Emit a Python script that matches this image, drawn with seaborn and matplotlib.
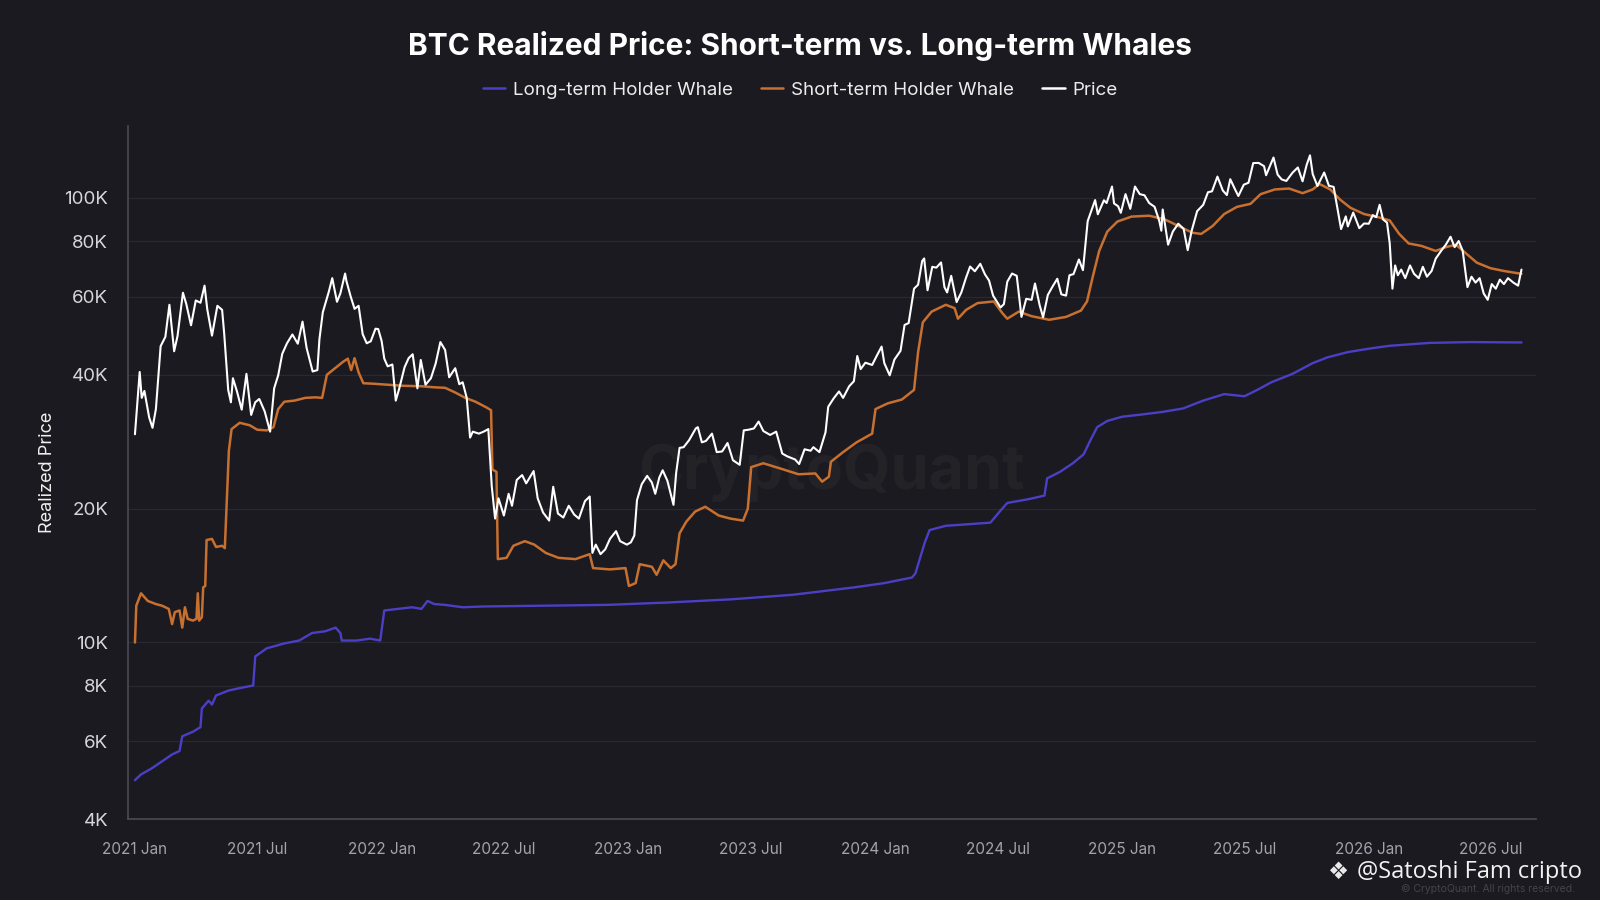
import pandas as pd
import numpy as np
import matplotlib
matplotlib.use("Agg")
import matplotlib.pyplot as plt
import matplotlib.dates as mdates
from matplotlib.ticker import FixedLocator, NullLocator
from matplotlib.lines import Line2D
import seaborn as sns

# ---- data (USD) ----
price_dates = [
    "2021-01-01", "2021-01-08", "2021-01-11", "2021-01-15", "2021-01-22", "2021-01-27", "2021-02-01", "2021-02-08",
    "2021-02-15", "2021-02-21", "2021-02-28", "2021-03-05", "2021-03-13", "2021-03-18", "2021-03-25", "2021-04-01",
    "2021-04-08", "2021-04-14", "2021-04-18", "2021-04-25", "2021-05-03", "2021-05-10", "2021-05-13", "2021-05-19",
    "2021-05-23", "2021-05-26", "2021-06-01", "2021-06-08", "2021-06-15", "2021-06-22", "2021-06-28", "2021-07-04",
    "2021-07-12", "2021-07-20", "2021-07-26", "2021-08-01", "2021-08-07", "2021-08-14", "2021-08-22", "2021-08-30",
    "2021-09-06", "2021-09-12", "2021-09-21", "2021-09-28", "2021-10-01", "2021-10-06", "2021-10-15", "2021-10-20",
    "2021-10-27", "2021-11-01", "2021-11-08", "2021-11-10", "2021-11-16", "2021-11-22", "2021-11-28", "2021-12-04",
    "2021-12-10", "2021-12-16", "2021-12-23", "2021-12-27",
    "2022-01-01", "2022-01-05", "2022-01-10", "2022-01-17", "2022-01-22", "2022-01-27", "2022-02-04", "2022-02-10",
    "2022-02-16", "2022-02-23", "2022-02-28", "2022-03-07", "2022-03-15", "2022-03-22", "2022-03-29", "2022-04-05",
    "2022-04-11", "2022-04-20", "2022-04-26", "2022-05-01", "2022-05-07", "2022-05-12", "2022-05-16", "2022-05-25",
    "2022-06-01", "2022-06-08", "2022-06-13", "2022-06-18", "2022-06-23", "2022-07-01", "2022-07-08", "2022-07-13",
    "2022-07-20", "2022-07-28", "2022-08-03", "2022-08-14", "2022-08-20", "2022-08-28", "2022-09-06", "2022-09-12",
    "2022-09-19", "2022-09-27", "2022-10-05", "2022-10-13", "2022-10-20", "2022-10-29", "2022-11-05", "2022-11-09",
    "2022-11-14", "2022-11-21", "2022-11-28", "2022-12-05", "2022-12-14", "2022-12-20", "2022-12-30",
    "2023-01-05", "2023-01-10", "2023-01-14", "2023-01-21", "2023-01-29", "2023-02-05", "2023-02-10", "2023-02-16",
    "2023-02-21", "2023-02-28", "2023-03-09", "2023-03-13", "2023-03-18", "2023-03-24", "2023-04-01", "2023-04-11",
    "2023-04-14", "2023-04-20", "2023-04-26", "2023-05-05", "2023-05-12", "2023-05-20", "2023-05-28", "2023-06-05",
    "2023-06-15", "2023-06-21", "2023-06-28", "2023-07-06", "2023-07-13", "2023-07-20", "2023-07-30", "2023-08-08",
    "2023-08-17", "2023-08-25", "2023-09-05", "2023-09-11", "2023-09-19", "2023-09-28", "2023-10-02", "2023-10-11",
    "2023-10-20", "2023-10-24", "2023-11-01", "2023-11-09", "2023-11-15", "2023-11-24", "2023-12-01", "2023-12-06",
    "2023-12-11", "2023-12-18", "2023-12-28",
    "2024-01-04", "2024-01-11", "2024-01-15", "2024-01-23", "2024-01-30", "2024-02-08", "2024-02-14", "2024-02-20",
    "2024-02-28", "2024-03-05", "2024-03-11", "2024-03-14", "2024-03-19", "2024-03-26", "2024-04-01", "2024-04-08",
    "2024-04-13", "2024-04-17", "2024-04-23", "2024-05-01", "2024-05-08", "2024-05-15", "2024-05-21", "2024-05-28",
    "2024-06-05", "2024-06-12", "2024-06-18", "2024-06-24", "2024-07-05", "2024-07-10", "2024-07-15", "2024-07-22",
    "2024-07-29", "2024-08-05", "2024-08-12", "2024-08-20", "2024-08-25", "2024-09-01", "2024-09-06", "2024-09-13",
    "2024-09-20", "2024-09-27", "2024-10-03", "2024-10-10", "2024-10-15", "2024-10-21", "2024-10-29", "2024-11-04",
    "2024-11-11", "2024-11-13", "2024-11-22", "2024-11-26", "2024-12-05", "2024-12-09", "2024-12-17", "2024-12-20",
    "2024-12-26", "2024-12-30",
    "2025-01-06", "2025-01-13", "2025-01-20", "2025-01-27", "2025-02-03", "2025-02-10", "2025-02-18", "2025-02-25",
    "2025-02-28", "2025-03-02", "2025-03-10", "2025-03-17", "2025-03-25", "2025-04-02", "2025-04-08", "2025-04-14",
    "2025-04-22", "2025-05-01", "2025-05-08", "2025-05-14", "2025-05-22", "2025-05-30", "2025-06-05", "2025-06-10",
    "2025-06-17", "2025-06-22", "2025-06-30", "2025-07-07", "2025-07-14", "2025-07-22", "2025-07-30", "2025-08-02",
    "2025-08-13", "2025-08-19", "2025-08-25", "2025-09-01", "2025-09-10", "2025-09-18", "2025-09-25", "2025-10-01",
    "2025-10-06", "2025-10-10", "2025-10-17", "2025-10-27", "2025-11-03", "2025-11-10", "2025-11-17", "2025-11-21",
    "2025-11-28", "2025-12-01", "2025-12-09", "2025-12-18", "2025-12-25",
    "2026-01-01", "2026-01-07", "2026-01-12", "2026-01-17", "2026-01-22", "2026-01-28", "2026-02-01", "2026-02-05",
    "2026-02-09", "2026-02-13", "2026-02-18", "2026-02-24", "2026-03-03", "2026-03-09", "2026-03-16", "2026-03-22",
    "2026-03-28", "2026-04-04", "2026-04-10", "2026-04-18", "2026-04-25", "2026-05-02", "2026-05-08", "2026-05-14",
    "2026-05-20", "2026-05-27", "2026-06-02", "2026-06-08", "2026-06-14", "2026-06-20", "2026-06-26", "2026-07-02",
    "2026-07-08", "2026-07-14", "2026-07-20", "2026-07-26", "2026-08-03", "2026-08-10", "2026-08-15",
]
price_values = [
    29400, 40600, 35500, 36800, 32100, 30400, 33500, 46400,
    48700, 57500, 45200, 48900, 61200, 57700, 51700, 58800,
    58100, 63500, 56200, 49000, 57200, 56000, 49700, 37000,
    34700, 39300, 36700, 33400, 40200, 32500, 34700, 35300,
    33100, 29800, 37300, 39900, 44600, 47100, 49300, 47000,
    52700, 46000, 40700, 41000, 48100, 55300, 61600, 66000,
    58400, 61000, 67600, 65000, 60200, 56300, 57200, 49400,
    47100, 47600, 50800, 50700,
    47700, 43500, 41800, 42200, 35000, 37200, 41600, 43600,
    44500, 37300, 43200, 38000, 39300, 42400, 47400, 45500,
    39500, 41400, 38100, 38500, 35500, 28900, 29800, 29500,
    29800, 30200, 22500, 19000, 21100, 19300, 21600, 20300,
    23200, 23800, 22800, 24300, 21100, 19600, 18800, 22400,
    19500, 19100, 20300, 19400, 19000, 20800, 21300, 15900,
    16600, 15800, 16200, 17100, 17800, 16900, 16600,
    16800, 17400, 20900, 22700, 23700, 22900, 21600, 23500,
    24400, 23100, 20400, 24100, 27400, 27500, 28500, 30300,
    30500, 28200, 28400, 29500, 26800, 26900, 28100, 25700,
    25100, 30000, 30100, 30300, 31400, 29900, 29300, 29800,
    26600, 26200, 25800, 25200, 27200, 27000, 27500, 26800,
    29700, 33900, 35400, 36700, 35500, 37700, 38700, 44100,
    41200, 42600, 42100,
    44200, 46300, 42500, 39900, 43300, 45300, 51800, 52300,
    62500, 63800, 72100, 73100, 62000, 70000, 69700, 71600,
    63000, 61300, 66800, 58300, 61300, 66200, 70100, 68400,
    71100, 67300, 65200, 60300, 56700, 57700, 64800, 67600,
    66800, 54000, 59300, 59000, 64200, 57300, 53900, 60500,
    63200, 65800, 60700, 60300, 67000, 67400, 72700, 68800,
    88700, 90500, 98900, 91900, 98800, 97400, 106100, 97200,
    95800, 92600,
    102000, 94500, 106100, 102000, 101400, 97400, 95500, 88700,
    84400, 94200, 78500, 84000, 87500, 85200, 76300, 84500,
    93400, 96500, 103000, 103500, 111700, 103900, 101500, 110200,
    104600, 101000, 107100, 108200, 119800, 119900, 117900, 112500,
    123300, 112900, 110100, 109200, 113900, 117100, 109000, 118600,
    124700, 113200, 106400, 114100, 106500, 105900, 92100, 85100,
    90900, 86300, 92700, 85500, 87600,
    87500, 91500, 90500, 96500, 89500, 88000, 79000, 62500,
    70500, 67000, 69000, 66000, 70500, 67500, 66000, 70000,
    66500, 68500, 73000, 76000, 78500, 81800, 77500, 80000,
    76000, 63000, 66500, 64500, 66000, 61000, 59000, 64000,
    62500, 65500, 64000, 66000, 64500, 63500, 69000,
]

sth_dates = [
    "2021-01-01", "2021-01-03", "2021-01-10", "2021-01-20", "2021-02-01", "2021-02-10", "2021-02-20", "2021-02-25",
    "2021-03-01", "2021-03-08", "2021-03-12", "2021-03-16", "2021-03-20", "2021-03-28", "2021-04-02", "2021-04-04",
    "2021-04-06", "2021-04-10", "2021-04-12", "2021-04-15", "2021-04-17", "2021-04-25", "2021-05-01", "2021-05-10",
    "2021-05-14", "2021-05-17", "2021-05-20", "2021-05-24", "2021-06-05", "2021-06-20", "2021-07-01", "2021-07-15",
    "2021-07-25", "2021-08-01", "2021-08-10", "2021-08-25", "2021-09-10", "2021-09-25", "2021-10-05", "2021-10-12",
    "2021-10-25", "2021-11-05", "2021-11-12", "2021-11-17", "2021-11-22", "2021-11-28", "2021-12-05", "2021-12-20",
    "2022-01-10", "2022-02-01", "2022-03-01", "2022-03-20", "2022-04-05", "2022-04-20", "2022-05-05", "2022-05-20",
    "2022-06-05", "2022-06-12", "2022-06-14", "2022-06-20", "2022-06-22", "2022-07-05", "2022-07-15", "2022-08-01",
    "2022-08-15", "2022-09-01", "2022-09-20", "2022-10-15", "2022-11-05", "2022-11-10", "2022-12-05", "2022-12-28",
    "2023-01-02", "2023-01-12", "2023-01-18", "2023-02-05", "2023-02-12", "2023-02-22", "2023-03-05", "2023-03-12",
    "2023-03-18", "2023-03-28", "2023-04-10", "2023-04-25", "2023-05-15", "2023-06-01", "2023-06-20", "2023-06-27",
    "2023-07-02", "2023-07-20", "2023-08-15", "2023-09-10", "2023-10-05", "2023-10-15", "2023-10-25", "2023-10-28",
    "2023-11-15", "2023-12-05", "2023-12-28",
    "2024-01-02", "2024-01-20", "2024-02-10", "2024-02-28", "2024-03-05", "2024-03-12", "2024-03-25", "2024-04-15",
    "2024-04-28", "2024-05-03", "2024-05-15", "2024-06-01", "2024-06-25", "2024-07-08", "2024-07-15", "2024-08-01",
    "2024-08-20", "2024-09-15", "2024-10-10", "2024-11-01", "2024-11-10", "2024-11-18", "2024-11-28", "2024-12-10",
    "2024-12-25",
    "2025-01-15", "2025-02-10", "2025-03-05", "2025-03-25", "2025-04-15", "2025-04-28", "2025-05-15", "2025-06-01",
    "2025-06-20", "2025-07-10", "2025-07-25", "2025-08-15", "2025-09-05", "2025-09-25", "2025-10-10", "2025-10-20",
    "2025-11-05", "2025-11-20", "2025-12-05", "2025-12-25",
    "2026-01-15", "2026-02-01", "2026-02-15", "2026-03-01", "2026-03-20", "2026-04-10", "2026-04-25", "2026-05-10",
    "2026-05-25", "2026-06-10", "2026-06-30", "2026-07-20", "2026-08-15",
]
sth_values = [
    10000, 12100, 12900, 12400, 12200, 12100, 11900, 11000,
    11700, 11800, 10800, 12000, 11300, 11200, 11300, 12900,
    11200, 11400, 13300, 13400, 17000, 17100, 16400, 16500,
    16300, 21000, 27000, 30200, 31200, 30800, 30100, 30000,
    30500, 33500, 34800, 35000, 35500, 35600, 35500, 40000,
    41500, 42800, 43500, 41000, 43600, 40500, 38300, 38200,
    38000, 37800, 37700, 37500, 37400, 36500, 35500, 34800,
    33800, 33300, 24500, 24200, 15400, 15500, 16500, 16900,
    16600, 15900, 15500, 15400, 15800, 14700, 14600, 14700,
    13400, 13600, 15000, 14800, 14200, 15300, 14700, 15000,
    17600, 18700, 19700, 20200, 19300, 19000, 18800, 20000,
    24800, 25300, 24600, 23900, 24000, 23000, 23600, 25500,
    26800, 28200, 29500,
    33500, 34500, 35200, 37000, 45000, 52500, 55500, 57500,
    56500, 53500, 56000, 58000, 58500, 55000, 53500, 55500,
    54200, 53200, 54000, 55800, 58500, 66000, 76000, 84000,
    88500,
    90800, 91200, 89500, 86500, 83500, 83000, 86500, 92000,
    95500, 97000, 102000, 104500, 105000, 102500, 104500, 107500,
    104500, 99000, 95000, 92000,
    90500, 89000, 83000, 79000, 78000, 76000, 77500, 78500,
    75000, 71500, 69500, 68500, 67500,
]

lth_dates = [
    "2021-01-01", "2021-01-10", "2021-01-25", "2021-02-10", "2021-02-25", "2021-03-08", "2021-03-12", "2021-03-28",
    "2021-04-08", "2021-04-10", "2021-04-20", "2021-04-25", "2021-05-01", "2021-05-20", "2021-06-15", "2021-06-25",
    "2021-06-28", "2021-07-15", "2021-08-10", "2021-09-01", "2021-09-20", "2021-10-10", "2021-10-25", "2021-11-01",
    "2021-11-03", "2021-11-25", "2021-12-15", "2021-12-30",
    "2022-01-05", "2022-01-25", "2022-02-15", "2022-03-01", "2022-03-10", "2022-03-20", "2022-04-05", "2022-05-01",
    "2022-06-01", "2022-09-01", "2022-12-01",
    "2023-03-01", "2023-06-01", "2023-09-01", "2023-12-01",
    "2024-01-15", "2024-02-25", "2024-03-01", "2024-03-08", "2024-03-15", "2024-03-22", "2024-04-15", "2024-06-20",
    "2024-07-05", "2024-07-15", "2024-08-15", "2024-09-08", "2024-09-12", "2024-10-01", "2024-10-20", "2024-11-05",
    "2024-11-15", "2024-11-25", "2024-12-10",
    "2025-01-01", "2025-02-01", "2025-03-01", "2025-04-01", "2025-05-01", "2025-06-01", "2025-07-01", "2025-07-20",
    "2025-08-10", "2025-09-10", "2025-10-10", "2025-11-01", "2025-12-01",
    "2026-01-01", "2026-02-01", "2026-04-01", "2026-06-01", "2026-08-15",
]
lth_values = [
    4900, 5050, 5200, 5400, 5600, 5700, 6150, 6300,
    6450, 7100, 7400, 7250, 7600, 7800, 7950, 8000,
    9300, 9700, 9950, 10100, 10500, 10600, 10800, 10500,
    10100, 10100, 10200, 10100,
    11800, 11900, 12000, 11900, 12400, 12200, 12150, 12000,
    12050, 12100, 12150,
    12300, 12500, 12800, 13300,
    13600, 14000, 14300, 15500, 16800, 17900, 18300, 18600,
    19800, 20600, 21000, 21400, 23400, 24200, 25300, 26500,
    28500, 30500, 31500,
    32200, 32600, 33000, 33600, 35000, 36200, 35800, 37000,
    38500, 40200, 42500, 43800, 45000,
    45800, 46500, 47200, 47400, 47300,
]

series_names = ["Long-term Holder Whale", "Short-term Holder Whale", "Price"]
y_ticks = [4000, 6000, 8000, 10000, 20000, 40000, 60000, 80000, 100000]
y_tick_labels = ["4K", "6K", "8K", "10K", "20K", "40K", "60K", "80K", "100K"]
x_ticks = ["2021-01-01", "2021-07-01", "2022-01-01", "2022-07-01", "2023-01-01", "2023-07-01",
           "2024-01-01", "2024-07-01", "2025-01-01", "2025-07-01", "2026-01-01", "2026-07-01"]

# ---- style ----
BG = "#1b1a20"
PURPLE = "#4b3fc6"
ORANGE = "#c8702f"
WHITE = "#ffffff"
GRID = "#2a2931"
AXIS = "#4c4b54"

sns.set_theme(style="dark")
plt.rcParams["font.family"] = ["Inter", "DejaVu Sans"]

fig = plt.figure(figsize=(16, 9), dpi=100, facecolor=BG)
ax = fig.add_axes([0.0797, 0.0896, 0.8801, 0.7709])
ax.set_facecolor(BG)

lth = pd.DataFrame({"date": pd.to_datetime(lth_dates), "value": lth_values})
sth = pd.DataFrame({"date": pd.to_datetime(sth_dates), "value": sth_values})
price = pd.DataFrame({"date": pd.to_datetime(price_dates), "value": price_values})

sns.lineplot(data=lth, x="date", y="value", ax=ax, color=PURPLE, linewidth=1.7, zorder=3)
sns.lineplot(data=sth, x="date", y="value", ax=ax, color=ORANGE, linewidth=1.8, zorder=4)
sns.lineplot(data=price, x="date", y="value", ax=ax, color=WHITE, linewidth=1.5, zorder=5)

ax.set_yscale("log")
ax.set_ylim(4000, 145500)
ax.set_xlim(pd.Timestamp("2020-12-21"), pd.Timestamp("2026-09-05"))

ax.yaxis.set_major_locator(FixedLocator(y_ticks))
ax.yaxis.set_minor_locator(NullLocator())
ax.set_yticklabels(y_tick_labels)
ax.set_xticks(pd.to_datetime(x_ticks))
ax.xaxis.set_major_formatter(mdates.DateFormatter("%Y %b"))

ax.grid(axis="y", color=GRID, linewidth=0.9)
ax.grid(axis="x", visible=False)
ax.tick_params(axis="y", length=0, pad=14, labelsize=13.5, labelcolor="#d6d6da")
ax.tick_params(axis="x", length=6, width=1, color=AXIS, direction="out", pad=10,
               labelsize=11, labelcolor="#a3a3ab")

for side in ["top", "right"]:
    ax.spines[side].set_visible(False)
for side in ["left", "bottom"]:
    ax.spines[side].set_visible(True)
    ax.spines[side].set_color(AXIS)
    ax.spines[side].set_linewidth(1.2)

ax.set_xlabel("")
ax.set_ylabel("Realized Price", color="#f0f0f0", fontsize=13, labelpad=6)

# faint watermark
ax.text(0.50, 0.50, "CryptoQuant", transform=ax.transAxes, fontsize=44, fontweight="bold",
        color="#ffffff", alpha=0.035, ha="center", va="center", zorder=1)

# title + legend
fig.text(0.5, 0.949, "BTC Realized Price: Short-term vs. Long-term Whales", ha="center", va="center",
         fontsize=21.5, fontweight="bold", color=WHITE)
handles = [Line2D([], [], color=c, linewidth=1.8) for c in [PURPLE, ORANGE, WHITE]]
fig.legend(handles, series_names, loc="center", bbox_to_anchor=(0.5, 0.9), ncol=3, frameon=False,
           fontsize=13.5, labelcolor="#ececec", handlelength=1.2, handletextpad=0.4, columnspacing=1.5)

# bottom-right overlay text
fig.text(0.93, 0.007, "\u00a9 CryptoQuant. All rights reserved.", ha="center", va="bottom",
         fontsize=7.5, color="#ffffff", alpha=0.18)
fig.text(0.836, 0.031, "\u2756", ha="center", va="center", fontsize=17, color="#e8e8e8",
         family=["DejaVu Sans"])
fig.text(0.848, 0.031, "@Satoshi Fam cripto", ha="left", va="center", fontsize=17, color="#f2f2f2",
         family=["Open Sans", "DejaVu Sans"])

fig.savefig("out.png", dpi=100, facecolor=BG)
